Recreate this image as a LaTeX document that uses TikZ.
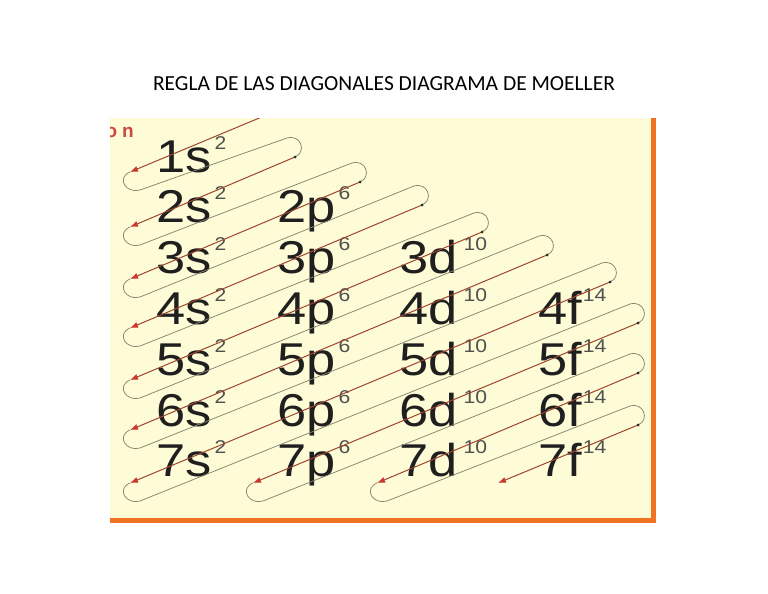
\documentclass[tikz,border=0pt]{standalone}
\usepackage{fontspec}
\setmainfont{Liberation Sans}
\newfontfamily\titlefont{Carlito}
\newfontfamily\orbfont[FakeStretch=1.14]{Liberation Sans}
\usetikzlibrary{arrows.meta,calc}
\definecolor{bgyellow}{RGB}{253,252,214}
\definecolor{barorange}{RGB}{242,114,36}
\definecolor{arrowred}{RGB}{158,70,48}
\definecolor{loopgray}{RGB}{135,132,112}
\definecolor{headred}{RGB}{205,55,50}
\definecolor{supgray}{RGB}{80,80,80}
\definecolor{textred}{RGB}{205,70,70}
\newcommand\orbsup[2]{\kern#1pt\raisebox{23pt}{\color{supgray}\fontsize{18.5}{18.5}\selectfont #2}}
\begin{document}
\begin{tikzpicture}[x=1pt,y=-1pt,
  orb/.style={anchor=base west, inner sep=0pt, font=\orbfont\fontsize{46}{46}\selectfont, text=black!88},
  diag/.style={draw=arrowred, line width=1pt, -{Latex[length=8pt,width=6pt,color=headred]}},
  loopline/.style={draw=loopgray, line width=0.75pt},
  startdot/.style={circle, fill=black!85, inner sep=0pt, minimum size=3pt},
]
\useasboundingbox (0,0) rectangle (768,594);
\fill[white] (0,0) rectangle (768,594);
\node[font=\titlefont\fontsize{21.5}{24}\selectfont, anchor=base, inner sep=0pt] (title) at (384,90) {REGLA DE LAS DIAGONALES DIAGRAMA DE MOELLER};
% panel
\fill[bgyellow] (110,118) rectangle (651,518);
\fill[barorange] (651,118) rectangle (656,523);
\fill[barorange] (110,518) rectangle (656,523);
% arrow coordinates
\coordinate (st1) at (300,101);  \coordinate (en1) at (130,172);
\coordinate (st2) at (295,157);  \coordinate (en2) at (130,227);
\coordinate (st3) at (360,182);  \coordinate (en3) at (130,279);
\coordinate (st4) at (422,205);  \coordinate (en4) at (130,328);
\coordinate (st5) at (482,232);  \coordinate (en5) at (130,380);
\coordinate (st6) at (547,255);  \coordinate (en6) at (130,430);
\coordinate (st7) at (610,282);  \coordinate (en7) at (130,483);
\coordinate (st8) at (638,323);  \coordinate (en8) at (253,483);
\coordinate (st9) at (638,373);  \coordinate (en9) at (377,483);
\coordinate (st10) at (638,425); \coordinate (en10) at (498,483);
\begin{scope}
\clip (110,118) rectangle (651,518);
\node[anchor=base east, inner sep=0pt, text=textred, font=\bfseries\fontsize{19}{19}\selectfont] (frag) at (134,137) {o\kern5pt{}n};
% orbital labels
\foreach \n in {1,...,7}{
  \pgfmathsetmacro\b{172+50.8*(\n-1)}
  \node[orb] (o\n s) at (156,\b) {\n s\orbsup{3}{2}};
  \ifnum\n>1 \node[orb] (o\n p) at (277,\b) {\n p\orbsup{3}{6}};\fi
  \ifnum\n>2 \node[orb] (o\n d) at (399,\b) {\n d\orbsup{6}{10}};\fi
  \ifnum\n>3 \node[orb] (o\n f) at (538,\b) {\n f\orbsup{1}{14}};\fi
}
% connecting loops
\foreach \k [evaluate=\k as \nk using int(\k+1)] in {1,...,9}{
  \draw[loopline] (en\k) .. controls +(-14,6) and +(-14,4) .. ($(en\k)+(10,18)$)
     -- ($(st\nk)+(-8,-19)$) .. controls +(14,-4) and +(12,-5) .. (st\nk);
}
% diagonal arrows
\foreach \k in {1,...,10}{
  \draw[diag] (st\k) -- (en\k);
}
\foreach \k in {2,...,10}{
  \node[startdot] (dot\k) at (st\k) {};
}
\end{scope}
\end{tikzpicture}
\end{document}
